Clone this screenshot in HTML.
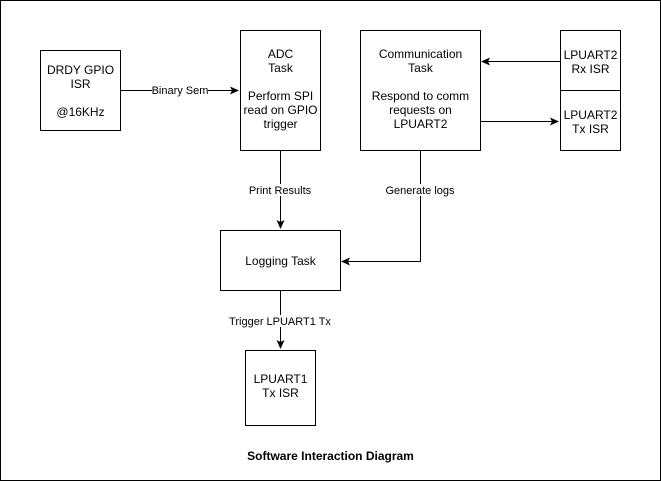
<!DOCTYPE html>
<html><head><style>
body{margin:0;background:#fff}
svg{display:block;font-family:"Liberation Sans",Arial,sans-serif}
</style></head><body>
<svg width="661" height="481" viewBox="0 0 661 481" xmlns="http://www.w3.org/2000/svg">
<defs><marker id="a" markerWidth="10" markerHeight="10" refX="8" refY="4" orient="auto" markerUnits="userSpaceOnUse"><path d="M0,0 L9,4 L0,8 L2,4 Z" fill="#000"/></marker></defs>
<rect x="0.5" y="0.5" width="660" height="480" fill="#fff" stroke="#000"/>
<g fill="#fff" stroke="#000">
<rect x="40.5" y="50.5" width="80" height="80"/>
<rect x="240.5" y="30.5" width="80" height="120"/>
<rect x="360.5" y="30.5" width="120" height="120"/>
<rect x="560.5" y="30.5" width="60" height="60"/>
<rect x="560.5" y="90.5" width="60" height="60"/>
<rect x="220.5" y="230.5" width="120" height="60"/>
<rect x="245.5" y="350.5" width="70" height="75"/>
</g>
<g stroke="#000" fill="none">
<line x1="120.5" y1="90.5" x2="238" y2="90.5" marker-end="url(#a)"/>
<line x1="560.5" y1="61.5" x2="482" y2="61.5" marker-end="url(#a)"/>
<line x1="480.5" y1="121.5" x2="558" y2="121.5" marker-end="url(#a)"/>
<line x1="280.5" y1="150.5" x2="280.5" y2="228" marker-end="url(#a)"/>
<polyline points="420.5,150.5 420.5,261.5 342,261.5" marker-end="url(#a)"/>
<line x1="280.5" y1="290.5" x2="280.5" y2="348" marker-end="url(#a)"/>
</g>
<g font-size="11" text-anchor="middle" fill="#000">
<rect x="152" y="84" width="56" height="12" fill="#fff"/>
<text x="180" y="94">Binary Sem</text>
<rect x="248" y="184" width="64" height="12" fill="#fff"/>
<text x="280" y="194">Print Results</text>
<rect x="385" y="184" width="70" height="12" fill="#fff"/>
<text x="420" y="194">Generate logs</text>
<rect x="230" y="315" width="100" height="12" fill="#fff"/>
<text x="280" y="325">Trigger LPUART1 Tx</text>
</g>
<g font-size="12" text-anchor="middle" fill="#000">
<text x="80.5" y="74">DRDY GPIO</text><text x="80.5" y="88">ISR</text><text x="80.5" y="116">@16KHz</text>
<text x="280.5" y="58">ADC</text><text x="280.5" y="72">Task</text>
<text x="280.5" y="100">Perform SPI</text><text x="280.5" y="114">read on GPIO</text><text x="280.5" y="128">trigger</text>
<text x="420.5" y="58">Communication</text><text x="420.5" y="72">Task</text>
<text x="420.5" y="100">Respond to comm</text><text x="420.5" y="114">requests on</text><text x="420.5" y="128">LPUART2</text>
<text x="590.5" y="59">LPUART2</text><text x="590.5" y="73">Rx ISR</text>
<text x="590.5" y="119">LPUART2</text><text x="590.5" y="133">Tx ISR</text>
<text x="280.5" y="265">Logging Task</text>
<text x="280.5" y="383">LPUART1</text><text x="280.5" y="397">Tx ISR</text>
<text x="330.5" y="460" font-weight="bold">Software Interaction Diagram</text>
</g>
</svg>
</body></html>
